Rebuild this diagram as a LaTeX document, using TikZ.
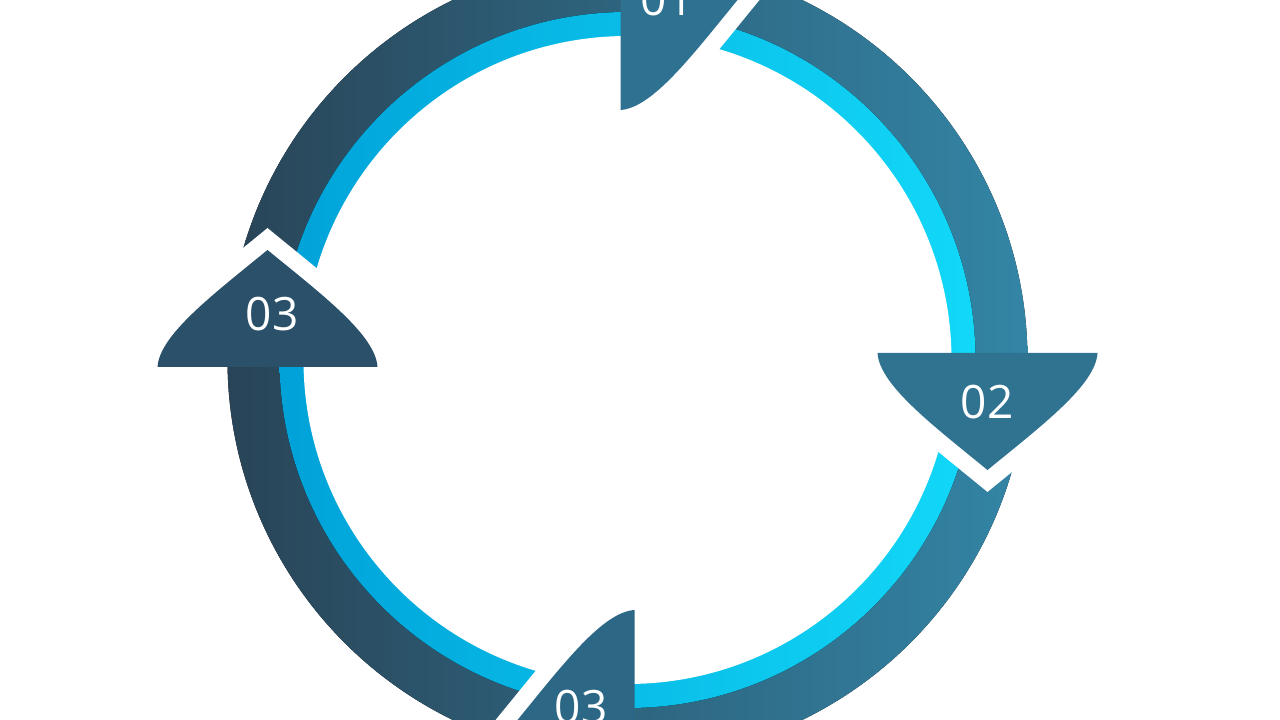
\documentclass[tikz,border=0pt]{standalone}
\usepackage{fontspec}
\setmainfont{Open Sans}
\definecolor{ringdarkL}{HTML}{294457}
\definecolor{ringdarkR}{HTML}{3385A6}
\definecolor{ringlightL}{HTML}{00A2D8}
\definecolor{ringlightR}{HTML}{12D8F8}
\definecolor{headleft}{HTML}{2A5169}
\definecolor{headtop}{HTML}{2E7190}
\definecolor{headright}{HTML}{2F7391}
\definecolor{headbottom}{HTML}{2C6785}
\tikzset{
  gapline/.style={draw=white,line width=34pt,line join=miter},
  numlabel/.style={text=white,inner sep=0pt,font=\fontsize{46}{50}\selectfont}
}
\newcommand{\headpath}{(-110,0) .. controls (-108,32) and (-55,72) .. (0,117) .. controls (55,72) and (108,32) .. (110,0)}
\begin{document}
\begin{tikzpicture}[x=1pt,y=1pt]
\clip (0,0) rectangle (1280,720);
\fill[white] (0,0) rectangle (1280,720);
\coordinate (c) at (627.5,360);
% ring
\fill[left color=ringdarkL,right color=ringdarkR] (c) circle (400pt);
\fill[left color=ringlightL,right color=ringlightR] (c) circle (348pt);
\fill[white] (c) circle (324pt);
% heads
\begin{scope}[shift={(267.5,353)}]
\draw[gapline] \headpath;
\fill[headleft] \headpath -- cycle;
\end{scope}
\begin{scope}[shift={(620.5,720)},rotate=-90]
\draw[gapline] \headpath;
\fill[headtop] \headpath -- cycle;
\end{scope}
\begin{scope}[shift={(987.5,367)},rotate=180]
\draw[gapline] \headpath;
\fill[headright] \headpath -- cycle;
\end{scope}
\begin{scope}[shift={(634.5,0)},rotate=90]
\draw[gapline] \headpath;
\fill[headbottom] \headpath -- cycle;
\end{scope}
% numbers
\node[numlabel] (n01) at (667,721) {01};
\node[numlabel] (n02) at (987,318) {02};
\node[numlabel] (n03a) at (581,13) {03};
\node[numlabel] (n03b) at (272,406) {03};
\end{tikzpicture}
\end{document}
